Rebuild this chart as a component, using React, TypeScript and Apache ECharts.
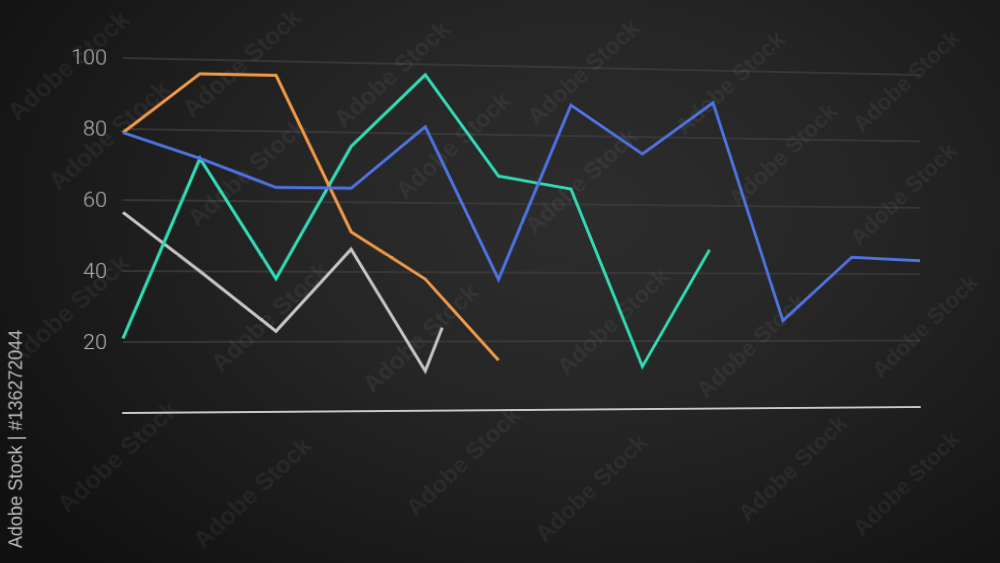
import React, { useEffect, useRef } from "react";
import * as echarts from "echarts";

// ---- data ----
const steps = [0, 1, 2, 3, 4, 5, 6, 7, 8, 9, 10, 11];
const blueValues = [79, 72, 64, 64, 82, 38, 89, 75, 90.5, 26, 45, 44];
const tealSteps = [0, 1, 2, 3, 4, 5, 6, 7, 7.95];
const tealValues = [21, 72, 38, 76, 97, 68, 64.5, 12.5, 47];
const orangeSteps = [0, 1, 2, 3, 4, 5];
const orangeValues = [79, 96, 96, 51.5, 38, 14.5];
const graySteps = [0, 1, 2, 3, 4, 4.23];
const grayValues = [56.5, 40, 23, 46.5, 11.5, 24];
const yTicks = [0, 20, 40, 60, 80, 100];

const watermarkText = "Adobe Stock";
const creditText = "Adobe Stock | #136272044";

// watermark anchor points (screen), kept inside the frame
const watermarkX = [72, 235, 380, 570, 720, 905, 110, 240, 440, 568, 775, 902, 72, 262, 408, 600, 742, 925, 118, 245, 450, 578, 785, 905];
const watermarkY = [66, 60, 68, 62, 70, 64, 135, 170, 140, 175, 145, 185, 310, 316, 338, 321, 346, 326, 456, 494, 465, 494, 476, 494];

// ---- perspective (flat plot rect -> photographed quad) ----
const flatRect = { x: 123, y: 58, w: 797, h: 355 };
const quad = [
  [123, 58],
  [920, 75],
  [920, 407],
  [123, 413],
];

function perspectiveMatrix(): string {
  const [p0, p1, p2, p3] = quad;
  const dx1 = p1[0] - p2[0], dx2 = p3[0] - p2[0], dx3 = p0[0] - p1[0] + p2[0] - p3[0];
  const dy1 = p1[1] - p2[1], dy2 = p3[1] - p2[1], dy3 = p0[1] - p1[1] + p2[1] - p3[1];
  const den = dx1 * dy2 - dx2 * dy1;
  const g = (dx3 * dy2 - dx2 * dy3) / den;
  const h = (dx1 * dy3 - dx3 * dy1) / den;
  const a = p1[0] - p0[0] + g * p1[0];
  const b = p3[0] - p0[0] + h * p3[0];
  const c = p0[0];
  const d = p1[1] - p0[1] + g * p1[1];
  const e = p3[1] - p0[1] + h * p3[1];
  const f = p0[1];
  const { x: rx, y: ry, w: rw, h: rh } = flatRect;
  const m11 = a / rw, m12 = b / rh, m13 = -a * rx / rw - b * ry / rh + c;
  const m21 = d / rw, m22 = e / rh, m23 = -d * rx / rw - e * ry / rh + f;
  const m31 = g / rw, m32 = h / rh, m33 = -g * rx / rw - h * ry / rh + 1;
  return `matrix3d(${m11},${m21},0,${m31},${m12},${m22},0,${m32},0,0,1,0,${m13},${m23},0,${m33})`;
}

const zip = (xs: number[], ys: number[]) => ys.map((v, i) => [xs[i], v]);

export default function App() {
  const ref = useRef<HTMLDivElement>(null);

  useEffect(() => {
    if (!ref.current) return;
    const chart = echarts.init(ref.current, undefined, { renderer: "svg", width: 1000, height: 563 });

    const watermarks = watermarkX.map((x, i) => ({
      type: "text",
      x,
      y: watermarkY[i],
      rotation: (44 * Math.PI) / 180,
      z: 1,
      silent: true,
      style: {
        text: watermarkText,
        fill: "rgba(255,255,255,0.05)",
        font: "bold 24px 'Liberation Sans', Arial, sans-serif",
        align: "center",
        verticalAlign: "middle",
      },
    }));

    const lineSeries = (name: string, data: number[][], color: string) => ({
      name,
      type: "line",
      data,
      showSymbol: false,
      symbol: "none",
      lineStyle: { color, width: 3, join: "miter" },
      itemStyle: { color },
      z: 3,
    });

    chart.setOption({
      animation: false,
      backgroundColor: "transparent",
      grid: { left: flatRect.x, top: flatRect.y, width: flatRect.w, height: flatRect.h, containLabel: false },
      xAxis: {
        type: "value",
        min: steps[0],
        max: steps[steps.length - 1],
        axisLine: { show: true, lineStyle: { color: "#c9c9c9", width: 2 } },
        axisTick: { show: false },
        axisLabel: { show: false },
        splitLine: { show: false },
      },
      yAxis: {
        type: "value",
        min: yTicks[0],
        max: yTicks[yTicks.length - 1],
        interval: yTicks[1] - yTicks[0],
        axisLine: { show: false },
        axisTick: { show: false },
        splitLine: { show: true, lineStyle: { color: "#3d3d3d", width: 1.5 } },
        axisLabel: {
          color: "#b4b4b4",
          fontSize: 20,
          fontWeight: 300,
          fontFamily: "Roboto, 'Liberation Sans', sans-serif",
          margin: 15,
          formatter: (v: number) => (v === 0 ? "" : String(v)),
        },
      },
      graphic: [
        ...watermarks,
        {
          type: "text",
          x: 23,
          y: 438,
          rotation: Math.PI / 2,
          z: 5,
          silent: true,
          style: {
            text: creditText,
            fill: "#bdbdbd",
            font: "18px 'Liberation Sans', Arial, sans-serif",
            align: "center",
            verticalAlign: "middle",
          },
        },
      ],
      series: [
        lineSeries("Gray", zip(graySteps, grayValues), "#c6c6c6"),
        lineSeries("Teal", zip(tealSteps, tealValues), "#30dcb6"),
        lineSeries("Orange", zip(orangeSteps, orangeValues), "#f29a48"),
        lineSeries("Blue", zip(steps, blueValues), "#4e73e4"),
      ],
    });

    return () => chart.dispose();
  }, []);

  return (
    <div
      style={{
        position: "fixed",
        left: 0,
        top: 0,
        width: 1000,
        height: 563,
        overflow: "hidden",
        background:
          "radial-gradient(ellipse 70% 85% at 58% 38%, #2d2d2d 0%, #262626 40%, #181818 80%, #111111 100%)",
      }}
    >
      <div
        ref={ref}
        style={{
          position: "absolute",
          left: 0,
          top: 0,
          width: 1000,
          height: 563,
          transformOrigin: "0 0",
          transform: perspectiveMatrix(),
        }}
      />
    </div>
  );
}
